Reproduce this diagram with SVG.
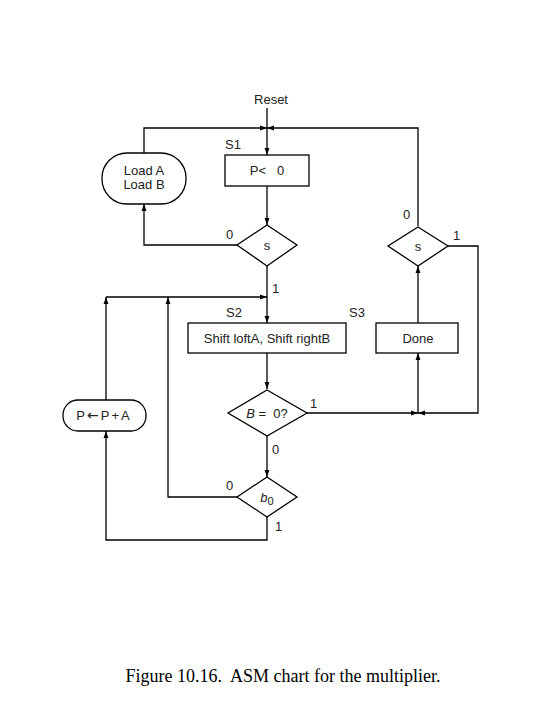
<svg xmlns="http://www.w3.org/2000/svg" width="540" height="720" viewBox="0 0 540 720">
<defs>
<marker id="ah" viewBox="0 0 10 10" refX="10" refY="5" markerWidth="7" markerHeight="7" orient="auto" markerUnits="userSpaceOnUse">
<path d="M0,1.5 L10,5 L0,8.5 z" fill="#000"/>
</marker>
<style>
.ln{fill:none;stroke:#000;stroke-width:1.3}
.bx{fill:#fff;stroke:#000;stroke-width:1.3}
.t{font-family:"Liberation Sans",Arial,sans-serif;font-size:13px;fill:#222}
.c{text-anchor:middle}
</style>
</defs>
<rect width="540" height="720" fill="#fff"/>
<g id="connectors">
<line class="ln" x1="267" y1="108" x2="267" y2="155" marker-end="url(#ah)"/>
<polyline class="ln" points="144,153 144,128 267,128" marker-end="url(#ah)"/>
<polyline class="ln" points="418,226 418,128 267,128" marker-end="url(#ah)"/>
<line class="ln" x1="267" y1="186" x2="267" y2="225" marker-end="url(#ah)"/>
<polyline class="ln" points="237,245 144,245 144,204" marker-end="url(#ah)"/>
<line class="ln" x1="267" y1="266" x2="267" y2="323" marker-end="url(#ah)"/>
<polyline class="ln" points="106,297 267,297" marker-end="url(#ah)"/>
<line class="ln" x1="267" y1="353" x2="267" y2="389" marker-end="url(#ah)"/>
<line class="ln" x1="307" y1="413" x2="418" y2="413" marker-end="url(#ah)"/>
<polyline class="ln" points="448,246 478,246 478,413 418,413" marker-end="url(#ah)"/>
<line class="ln" x1="267" y1="436" x2="267" y2="477" marker-end="url(#ah)"/>
<polyline class="ln" points="237,497 168,497 168,297" marker-end="url(#ah)"/>
<polyline class="ln" points="267,517 267,540 106,540 106,431" marker-end="url(#ah)"/>
<line class="ln" x1="106" y1="400" x2="106" y2="297" marker-end="url(#ah)"/>
<line class="ln" x1="418" y1="413" x2="418" y2="353" marker-end="url(#ah)"/>
<line class="ln" x1="418" y1="323" x2="418" y2="266" marker-end="url(#ah)"/>
</g>
<g id="reset"><text class="t c" x="271" y="104">Reset</text></g>
<g id="S1">
<text class="t" x="225" y="149">S1</text>
<rect class="bx" x="225" y="155" width="84" height="31"/>
<text class="t c" x="267" y="175" xml:space="preserve">P&lt;   0</text>
</g>
<g id="load">
<rect class="bx" x="102" y="153" width="84" height="51" rx="25" ry="25"/>
<text class="t c" x="144" y="175">Load A</text>
<text class="t c" x="144" y="189">Load B</text>
</g>
<g id="s1dec">
<polygon class="bx" points="267,225 297,245 267,266 237,245"/>
<text class="t c" x="267" y="250">s</text>
<text class="t" x="226" y="239">0</text>
<text class="t" x="272" y="293">1</text>
</g>
<g id="S2">
<text class="t" x="226" y="317">S2</text>
<rect class="bx" x="188" y="323" width="158" height="30"/>
<text class="t c" x="267" y="343">Shift loftA, Shift rightB</text>
</g>
<g id="Bdec">
<polygon class="bx" points="267,390 307,413 267,436 228,413"/>
<text class="t c" x="267" y="418" xml:space="preserve"><tspan font-style="italic">B</tspan> =  0?</text>
<text class="t" x="310" y="408">1</text>
<text class="t" x="272" y="454">0</text>
</g>
<g id="b0dec">
<polygon class="bx" points="267,477 297,497 267,517 237,497"/>
<text class="t c" x="267" y="502" font-style="italic">b<tspan font-style="normal" font-size="11" dy="3">0</tspan></text>
<text class="t" x="226" y="490">0</text>
<text class="t" x="275" y="531">1</text>
</g>
<g id="add">
<rect class="bx" x="63" y="400" width="83" height="31" rx="15" ry="15"/>
<text class="t c" x="104" y="420" letter-spacing="2">P<tspan font-family="'DejaVu Sans',sans-serif" font-size="14">←</tspan>P+A</text>
</g>
<g id="S3">
<text class="t" x="349" y="317">S3</text>
<rect class="bx" x="376" y="323" width="82" height="30"/>
<text class="t c" x="418" y="343">Done</text>
</g>
<g id="s3dec">
<polygon class="bx" points="418,227 448,246 418,266 388,246"/>
<text class="t c" x="418" y="251">s</text>
<text class="t" x="403" y="219">0</text>
<text class="t" x="453" y="240">1</text>
</g>
<g id="caption">
<text x="283" y="682" text-anchor="middle" font-family="'Liberation Serif','Times New Roman',serif" font-size="18px" fill="#000" xml:space="preserve">Figure 10.16.  ASM chart for the multiplier.</text>
</g>
</svg>
